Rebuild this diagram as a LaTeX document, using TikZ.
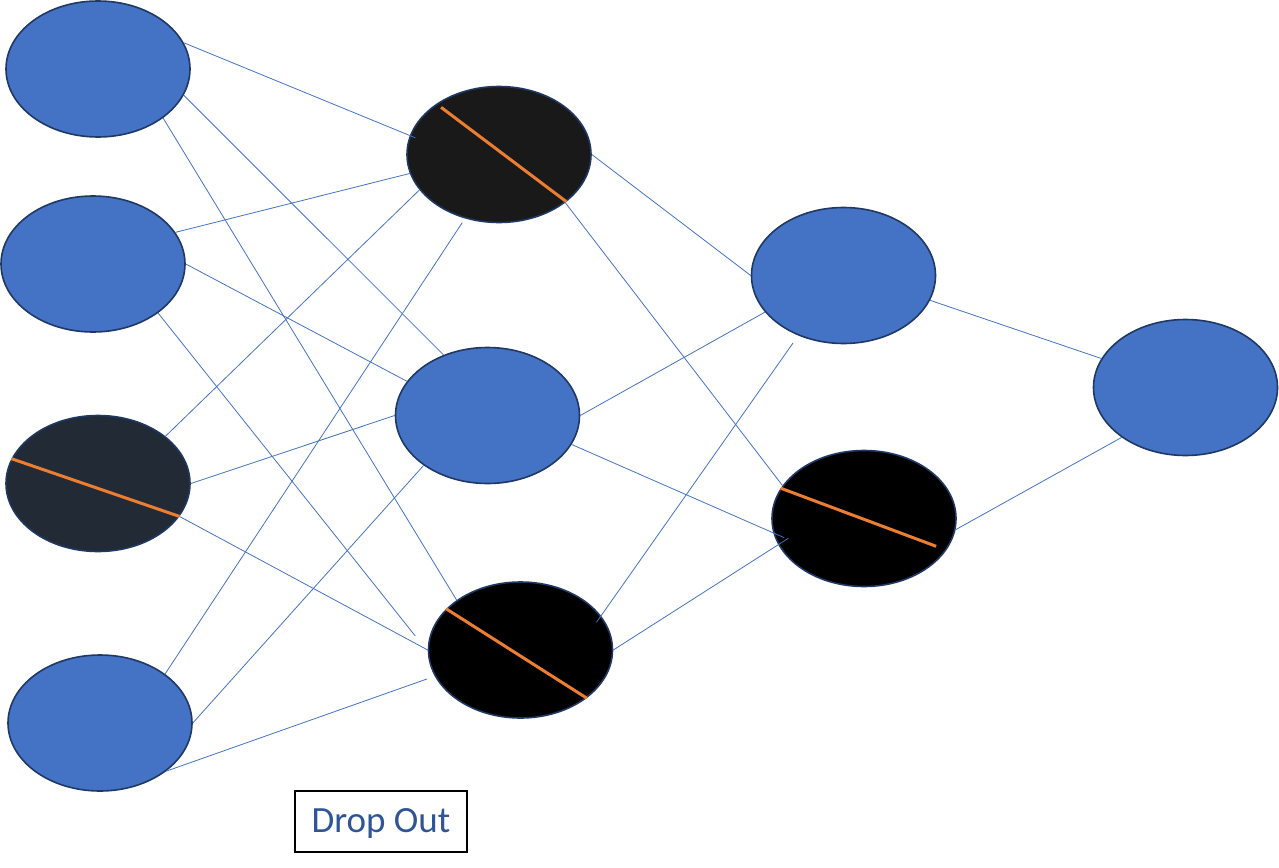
\documentclass[tikz,border=0pt]{standalone}
\usepackage{fontspec}
\setmainfont{Carlito}
\usepackage{tikz}
\usetikzlibrary{shapes.geometric,positioning}
\definecolor{nblue}{HTML}{4472C4}
\definecolor{nedge}{HTML}{1F3864}
\definecolor{ndark}{HTML}{222A35}
\definecolor{nblack}{HTML}{191919}
\definecolor{norange}{HTML}{ED7D31}
\definecolor{ntext}{HTML}{2F5597}
\tikzset{
    neuron/.style={
           ellipse,
           draw=nedge, line width=1.6pt,
           fill=nblue,
           minimum width=184pt,
           minimum height=136pt,
           inner sep=0pt},
    link/.style={
           draw=nblue,
           line width=0.8pt},
    strike/.style={
           draw=norange,
           line width=3pt},
    boks/.style={
           draw=black, line width=2pt,
           minimum width=172pt,
           minimum height=61pt,
           text depth=3pt,
           text=ntext,
           font=\fontsize{37}{40}\selectfont}
}

\begin{document}
\begin{tikzpicture}[x=1pt, y=-1pt]
        \useasboundingbox (0,0) rectangle (1279,867);
        % input layer
        \node[neuron] (i1) at (98,69) {};
        \node[neuron] (i2) at (93,264) {};
        \node[neuron, fill=ndark] (i3) at (98,483.5) {};
        \node[neuron] (i4) at (100,723) {};
        % hidden layers
        \node[neuron, fill=nblack] (h1) at (499,154.5) {};
        \node[neuron] (h2) at (487.5,415.5) {};
        \node[neuron, fill=black] (h3) at (520.5,650) {};
        \node[neuron] (g1) at (843.5,275.5) {};
        \node[neuron, fill=black] (g2) at (864,518.5) {};
        % output
        \node[neuron] (o) at (1185.5,387.5) {};
        \node[boks] (drop) at (381,821.5) {Drop Out};

        \draw[link, shorten >=-6pt] (i1.17) -- (h1.168);
        \draw[link] (i1.-17) -- (h2.126);
        \draw[link] (i1.-37) -- (h3.142);
        \draw[link] (i2.21) -- (h1.192);
        \draw[link] (i2.0) -- (h2.157);
        \draw[link, shorten >=20pt] (i2.-37) -- (h3.181);
        \draw[link] (i3.35) -- (h1.204);
        \draw[link] (i3.0) -- (h2.180);
        \draw[link] (i3.-22) -- (h3.180);
        \draw[link, shorten >=5pt] (i4.37) -- (h1.242);
        \draw[link] (i4.0) -- (h2.218);
        \draw[link, shorten >=8pt] (i4.-36) -- (h3.197);

        \draw[link] (h1.0) -- (g1.180);
        \draw[link] (h1.-36) -- (g2.158);
        \draw[link] (h2.0) -- (g1.205);
        \draw[link, shorten >=-12pt] (h2.-19) -- (g2.189);
        \draw[link, shorten <=-8pt, shorten >=9pt] (h3.23) -- (g1.233);
        \draw[link, shorten >=-12pt] (h3.0) -- (g2.197);

        \draw[link] (g1.-16) -- (o.161);
        \draw[link] (g2.-7) -- (o.218);

        % dropped units
        \draw[strike] (i3.164) -- (i3.-22);
        \draw[strike, shorten <=6pt] (h1.141) -- (h1.-35);
        \draw[strike] (h3.151) -- (h3.-36);
        \draw[strike, shorten >=11pt] (g2.160) -- (g2.-21);
    \end{tikzpicture}
\end{document}
